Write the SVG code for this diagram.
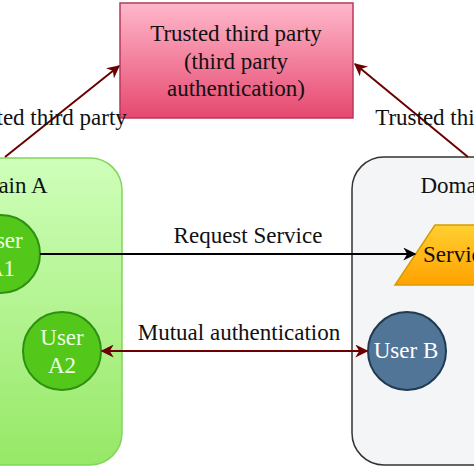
<svg xmlns="http://www.w3.org/2000/svg" width="474" height="474" viewBox="0 0 474 474">
<defs>
<linearGradient id="gPink" x1="0" y1="0" x2="0" y2="1"><stop offset="0" stop-color="#ffb8cb"/><stop offset="1" stop-color="#e6486f"/></linearGradient>
<linearGradient id="gGreen" x1="0" y1="0" x2="0" y2="1"><stop offset="0" stop-color="#cfffba"/><stop offset="1" stop-color="#96e866"/></linearGradient>
<linearGradient id="gOrange" x1="0" y1="0" x2="0" y2="1"><stop offset="0" stop-color="#ffd030"/><stop offset="1" stop-color="#ffa200"/></linearGradient>
<marker id="aRed" viewBox="0 0 10 10" refX="9" refY="5" markerWidth="13" markerHeight="13" markerUnits="userSpaceOnUse" orient="auto-start-reverse"><path d="M0,0 L10,5 L0,10 L3,5 z" fill="#6b0000"/></marker>
<marker id="aBlack" viewBox="0 0 10 10" refX="9" refY="5" markerWidth="13" markerHeight="13" markerUnits="userSpaceOnUse" orient="auto"><path d="M0,0 L10,5 L0,10 L3,5 z" fill="#000"/></marker>
</defs>
<style>
text{font-family:"Liberation Serif","Times New Roman",serif;font-size:23px;fill:#111;text-anchor:middle}
.light{fill:#ecffe0}
.white{fill:#ffffff}
.red{stroke:#6b0000;stroke-width:2;fill:none}
.blk{stroke:#000;stroke-width:2;fill:none}
</style>
<g id="domainA">
<rect x="-120" y="158" width="242" height="307" rx="32" fill="url(#gGreen)" stroke="#82d65a" stroke-width="1.5"/>
<text x="0" y="193">Domain A</text>
</g>
<g id="domainB">
<rect x="352" y="157" width="250" height="308" rx="32" fill="#f4f5f6" stroke="#333" stroke-width="1.5"/>
<text x="468" y="193">Domain B</text>
</g>
<g id="ttp">
<rect x="120" y="3" width="233" height="115" fill="url(#gPink)" stroke="#b8395a" stroke-width="1.5"/>
<text x="236" y="41">Trusted third party</text>
<text x="236" y="69">(third party</text>
<text x="236" y="96">authentication)</text>
</g>
<g id="service">
<path d="M435,225 L540,225 L500,285 L395,285 Z" fill="url(#gOrange)" stroke="#d89a00" stroke-width="1.5"/>
<text x="423" y="262" style="text-anchor:start">Service</text>
</g>
<g id="userA1">
<circle cx="1" cy="254" r="39" fill="#54c81a" stroke="#2f8f14" stroke-width="2"/>
<text class="light" x="1" y="248">User</text>
<text class="light" x="1" y="276">A1</text>
</g>
<g id="userA2">
<circle cx="62" cy="351" r="39" fill="#54c81a" stroke="#2f8f14" stroke-width="2"/>
<text class="light" x="62" y="345">User</text>
<text class="light" x="62" y="373">A2</text>
</g>
<g id="userB">
<circle cx="407" cy="351" r="39" fill="#517596" stroke="#1f3a52" stroke-width="2"/>
<text class="white" x="406" y="358">User B</text>
</g>
<g id="connectors">
<line class="red" x1="5" y1="157" x2="119" y2="66" marker-end="url(#aRed)"/>
<line class="red" x1="468" y1="157" x2="355" y2="64" marker-end="url(#aRed)"/>
<line class="blk" x1="40" y1="254" x2="415" y2="254" marker-end="url(#aBlack)"/>
<line class="red" x1="102" y1="351" x2="367" y2="351" marker-start="url(#aRed)" marker-end="url(#aRed)"/>
<text x="41" y="125">Trusted third party</text>
<text x="461" y="125">Trusted third party</text>
<text x="248" y="243">Request Service</text>
<text x="239" y="340">Mutual authentication</text>
</g>
</svg>
